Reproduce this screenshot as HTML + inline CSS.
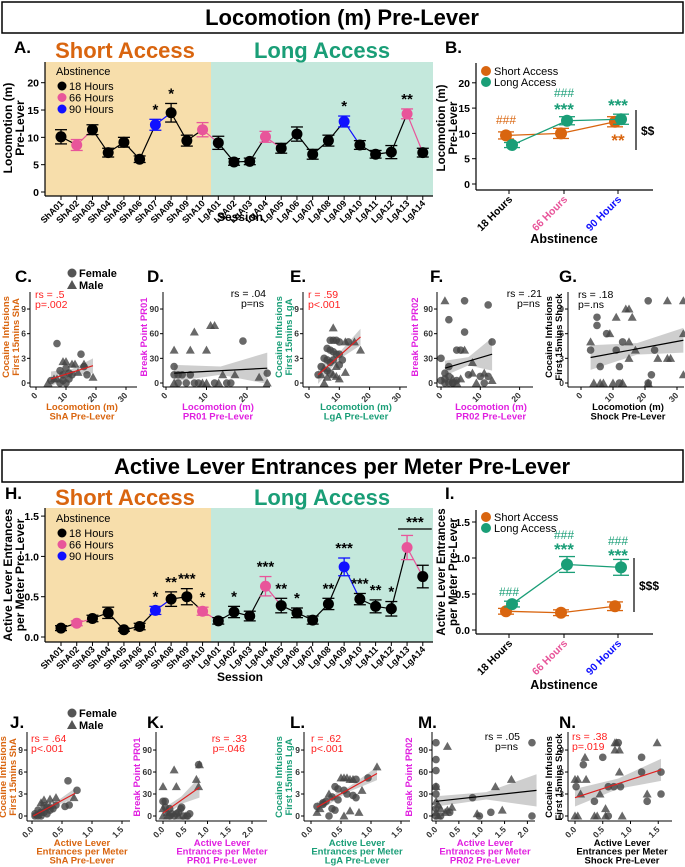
<!DOCTYPE html>
<html><head><meta charset="utf-8">
<style>
body{margin:0;background:#fff;}
svg{display:block;font-family:"Liberation Sans",Arial,sans-serif;}
.b{font-weight:bold;}
</style></head>
<body>
<svg id="fig" width="685" height="867" viewBox="0 0 685 867" xmlns="http://www.w3.org/2000/svg">
<rect x="0" y="0" width="685" height="867" fill="#fff"/>
<g>
<rect x="2" y="2" width="681" height="31" fill="#fff" stroke="#000" stroke-width="1.5"/>
<text x="342" y="25" text-anchor="middle" class="b" font-size="22">Locomotion (m) Pre-Lever</text>
</g>
<g>
<rect x="2" y="450" width="681" height="32" fill="#fff" stroke="#000" stroke-width="1.5"/>
<text x="342" y="474" text-anchor="middle" class="b" font-size="22">Active Lever Entrances per Meter Pre-Lever</text>
</g>
<g id="layer"></g>
</svg>
<script>
// ---------- Panel A data ----------
const sessions=["ShA01","ShA02","ShA03","ShA04","ShA05","ShA06","ShA07","ShA08","ShA09","ShA10","LgA01","LgA02","LgA03","LgA04","LgA05","LgA06","LgA07","LgA08","LgA09","LgA10","LgA11","LgA12","LgA13","LgA14"];
const abstGroup=["18","66","18","18","18","18","90","18","18","66","18","18","18","66","18","18","18","18","90","18","18","18","66","18"];
const locoMean=[10.1,8.6,11.4,7.2,9.1,6.0,12.3,14.5,9.4,11.4,9.0,5.5,5.6,10.1,8.0,10.6,6.9,9.4,12.9,8.6,6.9,7.3,14.3,7.2];
const locoErr=[1.3,1.0,0.9,0.8,0.9,0.6,1.0,1.7,1.0,1.3,1.2,0.6,0.6,1.0,0.9,1.3,0.9,1.0,1.0,0.8,0.7,1.2,0.9,0.8];
const locoStars=["","","","","","","*","*","","","","","","","","","","","*","","","","**",""];
const locoTicks=[0,5,10,15,20];
// ---------- Panel H data ----------
const aleMean=[0.11,0.17,0.23,0.30,0.09,0.13,0.33,0.47,0.50,0.32,0.20,0.31,0.26,0.63,0.39,0.30,0.21,0.41,0.87,0.47,0.38,0.35,1.11,0.75];
const aleErr=[0.03,0.03,0.04,0.07,0.02,0.04,0.05,0.09,0.10,0.05,0.04,0.07,0.06,0.12,0.09,0.06,0.05,0.07,0.11,0.07,0.08,0.09,0.15,0.14];
const aleStars=["","","","","","","*","**","***","*","","*","","***","**","*","","**","***","***","**","*","",""];
const aleTicks=[0,0.5,1.0,1.5];
// ---------- Panel B / I data ----------
const abstLabels=["18 Hours","66 Hours","90 Hours"];
const bShort=[9.6,10.0,12.3];const bShortErr=[0.7,1.0,1.0];
const bLong=[7.7,12.5,12.8];const bLongErr=[0.5,0.8,1.0];
const iShort=[0.26,0.24,0.33];const iShortErr=[0.04,0.04,0.06];
const iLong=[0.36,0.91,0.87];const iLongErr=[0.04,0.11,0.11];
// ---------- Scatter data ----------
const cX=[7,15,10,9,13,16,12,8,10,11,9,12,17,19,5,6,8,9,10,7,14,4,11,16];
const cY=[4.8,3.5,2.6,2.6,2.3,2.3,2.3,1.5,1.8,1.2,1,1,1,0.7,0.3,0.5,0,0.3,0,0.5,1.3,0,0.5,2];
const cS="cctttttcccccctctccctttcc";
const dX=[2,2,6,7,11,12,10,19,25,25,23,2,3,4,5,6,7,8,9,10,12,13,14,15,16,17,2,3];
const dY=[20,40,40,62,70,70,40,51,12,0,7,0,10,10,0,10,0,0,0,0,0,0,10,0,0,10,10,0];
const dS="cttttttcctttccccccttcttcctcc";
const eX=[8,7,8,9,10,12,13,15,17,6,7,8,9,10,5,6,7,8,9,10,11,4,5,6,7,8,3,4,6,5,9,10,12];
const eY=[6.7,5.2,5.2,5.2,5,5,5,5,4,4.2,4,3.8,3.5,3.5,3,2.8,2.5,2.8,2,2.2,2.8,2,1.8,1.5,1.2,1,1,1,0.7,0,0.8,0.5,1.3];
const eS="tcccctcttccccccccctccctcctcttttttt";
const fX=[1,6,12,2,6,13,4,5,6,8,0,2,1,2,3,4,5,1,2,3,4,0,7,8,10,11,12,13,9,11,1,3];
const fY=[100,100,95,77,62,50,40,40,40,25,30,20,12,8,5,3,5,0,0,0,0,3,10,12,8,12,8,3,0,0,5,0];
const fS="tcccccccttcccctctccctcctctcttcccc";
const gX=[3,3,5,5,6,8,9,11,11,12,13,14,15,15,15,16,17,21,21,22,23,24,27,27,28,32,32,32,4,6,7,10,12,13,21];
const gY=[5,4,8,7,2,6,6,8,4,2,5,9,9,5,3,8,4,10,0,1,4,3,10,3,3,10,6,1,0,0,0,0,0,0,0];
const gS="tcccccttcccttttttcccctttttttttttctt";
const jX=[0.6,0.75,0.3,0.2,0.4,0.7,0.15,0.2,0.25,0.3,0.35,0.1,0.15,0.05,0.1,0.2,0.3,0.05,0.1,0.15,0.25,0.62,0.55,0.4];
const jY=[4.8,3.5,2.3,2.2,2.5,2.5,1.8,1.4,1.2,1.4,1,0.8,0.5,0.3,0.2,0.5,0.8,0,0,0,0.3,1.5,1.3,1.5];
const jS="cctttttcctcccctccccccccc";
const kX=[0.8,0.82,0.25,0.75,0.8,0.3,0,0,0.05,0,0.05,0.1,0.15,0.2,0.3,0.35,0.4,0.42,0.25,0.35,0.45,0.55,0.6,0.5,0,0.1,0.15];
const kY=[70,70,63,50,40,40,40,20,20,10,12,5,10,3,3,5,10,12,0,0,0,0,3,0,0,0,0];
const kS="cttttttcctctccccccctccctttcct";
const lX=[1.1,0.95,0.5,0.55,0.6,0.65,0.7,0.75,0.4,0.45,0.55,0.6,0.7,0.75,0.3,0.35,0.45,0.25,0.2,0.1,0.15,0.2,0.35,0.4,0.3,0.55,0.65,0.8,0.85,0.1];
const lY=[6.7,5.2,5.2,5.2,5.2,5,5,5,4,3.7,3.5,3,2.8,2.5,3,2.6,2.2,2,1.6,1.3,1,1.8,1,0.8,0,0,0.7,0.5,3.5,0.5];
const lS="tctttttccccccctccccctcccctttttc";
const mX=[0,0,0,0,0,0,0,0,0,0,0.05,0.25,0.3,0.25,0.35,0.1,0.1,0.8,0.9,0.95,1.2,1.3,1.45,1.65,2.1,2.1,0.05,0.2];
const mY=[100,77,62,40,40,30,20,10,5,0,0,95,5,8,12,10,0,25,3,0,5,40,8,50,100,0,15,5];
const mS="ccctcctctcttctttcctcctttccttttc";
const nX=[0,0.05,0.02,0.1,0.15,0.18,0.2,0.35,0.4,0.45,0.5,0.55,0.6,0.7,0.72,0.72,0.75,0.78,0.8,0.8,0.85,1.2,1.2,1.3,1.3,1.48,1.55,1.55,0,0.05,0.35,0.55,0.6,0.82];
const nY=[5,5,4,3,7,8,5,2,0,3,8,1,4,4,9,10,10,10,9,6,0,8,6,2,3,10,3,6,0,0,0,0,0,4];
const nS="ttctcttcttctcctttctttcccttccttttcctc";
// fits: [xStart,yStart,xEnd,yEnd] and CI half-width [start,mid,end]
const cFit=[5,0.5,19,2.1],cBand=[0.9,0.4,0.9];
const dFit=[2,12,25,18],dBand=[10,5,19];
const eFit=[3,1.0,17,5.6],eBand=[1.1,0.4,1.0];
const fFit=[1,18,13,35],fBand=[9,5,20];
const gFit=[3,3.1,32,5.2],gBand=[1.5,0.7,1.5];
const jFit=[0.02,0,0.72,3.1],jBand=[0.4,0.2,0.7];
const kFit=[0,4,0.82,39],kBand=[6,5,14];
const lFit=[0.1,1.2,1.1,5.8],lBand=[0.7,0.3,0.9];
const mFit=[0,20,2.2,35],mBand=[7,5,22];
const nFit=[0,2.5,1.55,6.3],nBand=[1.2,0.7,1.5];

const NS="http://www.w3.org/2000/svg";
const layer=document.getElementById('layer');
function el(tag,attrs,parent,txt){const e=document.createElementNS(NS,tag);for(const k in attrs)e.setAttribute(k,attrs[k]);if(txt!==undefined)e.textContent=txt;(parent||layer).appendChild(e);return e;}
function grp(name){const g=el('g',{});return g;}
const ORANGE="#d9650f",TEAL="#1a9e77",PINK="#e8559a",BLUE="#1010ff",MAG="#e020e0";
const grpColor={"18":"#000","66":PINK,"90":BLUE};

function txt(g,x,y,s,size,color,anchor,bold,rot){const t=el('text',{x:x,y:y,'font-size':size,fill:color||'#000','text-anchor':anchor||'start','font-weight':bold?'bold':'normal'},g,s);if(rot)t.setAttribute('transform','rotate('+rot+' '+x+' '+y+')');return t;}

// ---------- Session line chart ----------
function sessionChart(name,cfg){
  const g=grp(name);
  const X=i=>61+i*15.73;
  const Y=v=>cfg.y0-v*cfg.k;
  const bgS=el('rect',{x:45,y:cfg.top,width:166,height:cfg.bot-cfg.top,fill:"#f7deab"},g);
  
  const bgL=el('rect',{x:211,y:cfg.top,width:222,height:cfg.bot-cfg.top,fill:"#c4e8dc"},g);
  
  el('line',{x1:45,y1:cfg.top,x2:45,y2:cfg.bot,stroke:'#000','stroke-width':1.2},g);
  el('line',{x1:45,y1:cfg.bot,x2:433,y2:cfg.bot,stroke:'#000','stroke-width':1.2},g);
  cfg.ticks.forEach(t=>{el('line',{x1:41,y1:Y(t),x2:45,y2:Y(t),stroke:'#000'},g);
    const tl=txt(g,39,Y(t)+4,cfg.fmt(t),10.5,'#000','end',true);});
  txt(g,125,cfg.hdrY,"Short Access",22,ORANGE,'middle',true);
  txt(g,322,cfg.hdrY,"Long Access",22,TEAL,'middle',true);
  for(let i=0;i<sessions.length-1;i++){
    el('line',{x1:X(i),y1:Y(cfg.mean[i]),x2:X(i+1),y2:Y(cfg.mean[i+1]),stroke:grpColor[abstGroup[i]],'stroke-width':1.2},g);
  }
  sessions.forEach((s,i)=>{
    const c=grpColor[abstGroup[i]],x=X(i),m=cfg.mean[i],e=cfg.err[i];
    el('line',{x1:x,y1:Y(m-e),x2:x,y2:Y(m+e),stroke:c,'stroke-width':1.3},g);
    el('line',{x1:x-6,y1:Y(m-e),x2:x+6,y2:Y(m-e),stroke:c,'stroke-width':1.3},g);
    el('line',{x1:x-6,y1:Y(m+e),x2:x+6,y2:Y(m+e),stroke:c,'stroke-width':1.3},g);
    const p=el('circle',{cx:x,cy:Y(m),r:5.5,fill:c},g);
    
    
    el('line',{x1:x,y1:cfg.bot,x2:x,y2:cfg.bot+4,stroke:'#000'},g);
    const tl=txt(g,x+3,cfg.bot+8,s,9,'#000','end',true,-45);
    
    if(cfg.stars[i])txt(g,x,Y(m+e)-5,cfg.stars[i],15,'#000','middle',true);
  });
  const sl=txt(g,240,cfg.sessY,"Session",12,'#000','middle',true);
  
  txt(g,12,cfg.ylabY,cfg.yl1,12,'#000','middle',true,-90);
  txt(g,24,cfg.ylabY,cfg.yl2,12,'#000','middle',true,-90);
  const lg=grp(name+'-legend');
  txt(lg,56,cfg.legY,"Abstinence",11,'#000');
  [["#000","18 Hours"],[PINK,"66 Hours"],[BLUE,"90 Hours"]].forEach((d,j)=>{
    el('circle',{cx:62,cy:cfg.legY+11+j*11.5,r:4.5,fill:d[0]},lg);
    txt(lg,69,cfg.legY+15+j*11.5,d[1],11,'#000');
  });
  return g;
}
sessionChart('panel-a-locomotion-chart',{y0:192,k:5.465,top:62,bot:196,ticks:locoTicks,fmt:t=>String(t),mean:locoMean,err:locoErr,stars:locoStars,hdrY:58,sessY:221,ylabY:128,yl1:"Locomotion (m)",yl2:"Pre-Lever",legY:75});
sessionChart('panel-h-active-lever-chart',{y0:637,k:80.6,top:508,bot:642,ticks:aleTicks,fmt:t=>t.toFixed(1),mean:aleMean,err:aleErr,stars:aleStars,hdrY:505,sessY:681,ylabY:575,yl1:"Active Lever Entrances",yl2:"per Meter Pre-Lever",legY:522});
{const g=grp('lga13-14-significance');const X=i=>61+i*15.73;
 el('line',{x1:X(22)-9,y1:529,x2:X(23)+9,y2:529,stroke:'#000','stroke-width':1.2},g);
 txt(g,(X(22)+X(23))/2,527,"***",15,'#000','middle',true);}

// ---------- Abstinence group chart ----------
function groupChart(name,cfg){
  const g=grp(name);
  const xs=[509,564,618];
  const Y=v=>cfg.y0-v*cfg.k;
  el('line',{x1:476,y1:cfg.top,x2:476,y2:cfg.bot,stroke:'#000','stroke-width':1.2},g);
  el('line',{x1:476,y1:cfg.bot,x2:653,y2:cfg.bot,stroke:'#000','stroke-width':1.2},g);
  cfg.ticks.forEach(t=>{el('line',{x1:472,y1:Y(t),x2:476,y2:Y(t),stroke:'#000'},g);
    txt(g,470,Y(t)+4,cfg.fmt(t),10.5,'#000','end',true);});
  const cols=[ORANGE,PINK,BLUE];
  xs.forEach((x,i)=>{el('line',{x1:x,y1:cfg.bot,x2:x,y2:cfg.bot+4,stroke:'#000'},g);
    const tl=txt(g,x+4,cfg.bot+10,abstLabels[i],10.5,i==0?'#000':cols[i],'end',true,-45);
    });
  [[cfg.sh,cfg.shE,ORANGE,-3,'short-access'],[cfg.lg,cfg.lgE,TEAL,3,'long-access']].forEach(s=>{
    const [v,e,c,off,nm]=s;
    for(let i=0;i<2;i++)el('line',{x1:xs[i]+off,y1:Y(v[i]),x2:xs[i+1]+off,y2:Y(v[i+1]),stroke:c,'stroke-width':1.3},g);
    v.forEach((m,i)=>{const x=xs[i]+off;
      el('line',{x1:x,y1:Y(m-e[i]),x2:x,y2:Y(m+e[i]),stroke:c,'stroke-width':1.3},g);
      el('line',{x1:x-8,y1:Y(m-e[i]),x2:x+8,y2:Y(m-e[i]),stroke:c,'stroke-width':1.3},g);
      el('line',{x1:x-8,y1:Y(m+e[i]),x2:x+8,y2:Y(m+e[i]),stroke:c,'stroke-width':1.3},g);
      const p=el('circle',{cx:x,cy:Y(m),r:6,fill:c},g);
      
      
    });
  });
  txt(g,564,cfg.abY,"Abstinence",12.5,'#000','middle',true);
  txt(g,445,cfg.ylabY,cfg.yl1,11.5,'#000','middle',true,-90);
  txt(g,457,cfg.ylabY,cfg.yl2,11.5,'#000','middle',true,-90);
  const lg=grp(name+'-legend');
  el('circle',{cx:486,cy:cfg.legY,r:5,fill:ORANGE},lg);txt(lg,494,cfg.legY+4,"Short Access",11,'#000');
  el('circle',{cx:486,cy:cfg.legY+11,r:5,fill:TEAL},lg);txt(lg,494,cfg.legY+15,"Long Access",11,'#000');
  cfg.ann.forEach(a=>txt(g,a[0],a[1],a[2],a[3],a[4],'middle',a[2][0]=='*'));
  el('line',{x1:cfg.brX,y1:cfg.br[0],x2:cfg.brX,y2:cfg.br[1],stroke:'#000','stroke-width':1.2},g);
  txt(g,cfg.brX+5,(cfg.br[0]+cfg.br[1])/2+5,cfg.dollar,12,'#000','start',true);
}
groupChart('panel-b-abstinence-chart',{y0:184,k:5.06,top:63,bot:190,ticks:[0,5,10,15,20],fmt:t=>String(t),sh:bShort,shE:bShortErr,lg:bLong,lgE:bLongErr,abY:243,ylabY:128,yl1:"Locomotion (m)",yl2:"Pre-Lever",legY:71,
 ann:[[506,124,"###",12,ORANGE],[564,97,"###",12,TEAL],[564,115,"***",17,TEAL],[618,111,"***",17,TEAL],[618,146,"**",17,ORANGE]],brX:636,br:[110,150],dollar:"$$"});
groupChart('panel-i-abstinence-chart',{y0:630,k:72,top:510,bot:634,ticks:[0,0.5,1.0,1.5],fmt:t=>t.toFixed(1),sh:iShort,shE:iShortErr,lg:iLong,lgE:iLongErr,abY:689,ylabY:572,yl1:"Active Lever Entrances",yl2:"per Meter Pre-Lever",legY:517,
 ann:[[509,596,"###",12,TEAL],[564,539,"###",12,TEAL],[564,555,"***",17,TEAL],[618,545,"###",12,TEAL],[618,561,"***",17,TEAL]],brX:634,br:[558,612],dollar:"$$$"});

// ---------- Scatter panels ----------
function scatter(name,c){
  const g=grp(name);
  const X=v=>c.x0+v*c.kx, Y=v=>c.y0-v*c.ky;
  const [a,b,d,e]=c.fit, bw=c.band;
  const xm=(a+d)/2, ym=(b+e)/2;
  const up=[[a,b+bw[0]],[xm,ym+bw[1]],[d,e+bw[2]]], dn=[[d,e-bw[2]],[xm,ym-bw[1]],[a,b-bw[0]]];
  const pts=up.concat(dn).map(p=>X(p[0])+','+Y(Math.max(p[1],c.ymin))).join(' ');
  const band=el('polygon',{points:pts,fill:'#bdbdbd','fill-opacity':0.75},g);
  
  c.xs.forEach((xv,i)=>{
    const x=X(xv),y=Y(c.ys[i]);let m;
    if(c.sh[i]==='t')m=el('polygon',{points:(x)+','+(y-4.5)+' '+(x-4.5)+','+(y+3.5)+' '+(x+4.5)+','+(y+3.5),fill:'#444','fill-opacity':0.8},g);
    else m=el('circle',{cx:x,cy:y,r:3.8,fill:'#444','fill-opacity':0.8},g);
    
    
  });
  const fl=el('line',{x1:X(a),y1:Y(b),x2:X(d),y2:Y(e),stroke:c.fc,'stroke-width':1.2},g);
  
  el('line',{x1:c.ax,y1:c.top,x2:c.ax,y2:c.axY,stroke:'#000','stroke-width':1},g);
  el('line',{x1:c.ax,y1:c.axY,x2:c.right,y2:c.axY,stroke:'#000','stroke-width':1},g);
  c.yt.forEach(t=>{el('line',{x1:c.ax-3,y1:Y(t),x2:c.ax,y2:Y(t),stroke:'#000'},g);txt(g,c.ax-4,Y(t)+3,String(t),8.5,'#333','end',true);});
  c.xt.forEach(t=>{el('line',{x1:X(t),y1:c.axY,x2:X(t),y2:c.axY+3,stroke:'#000'},g);txt(g,X(t)+2,c.axY+9,c.xf(t),8.5,'#333','end',true,-45);});
  c.yl.forEach((s,j)=>txt(g,c.ylx+j*10,c.yly,s,9.5,c.col,'middle',true,-90));
  c.xl.forEach((s,j)=>txt(g,c.xlx,c.xly+j*c.xls,s,9.5,c.col,'middle',true));
  const st=c.stat;
  txt(g,st[0],st[1],st[2],10.5,st[4],st[5],false);txt(g,st[0]+(st[5]=='end'?-2:0),st[1]+10,st[3],10.5,st[4],st[5],false);
  txt(g,c.lx,c.ly,c.letter,17,'#000','start',true);
}
const r1={y0:383,axY:387,top:292,xly:410,xls:9.5,yly:337};
const ky1=8.22,kb1=0.822;
const xl1=i=>["Locomotion (m)",i];
scatter('panel-c-scatter',Object.assign({},r1,{x0:36,kx:3.0,ax:30,right:137,ky:ky1,ymin:-0.5,yt:[0,3,6,9],xt:[0,10,20,30],xf:String,xs:cX,ys:cY,sh:cS,fit:cFit,band:cBand,fc:'#e02020',col:ORANGE,yl:["Cocaine Infusions","First 15mins ShA"],ylx:9,xl:xl1("ShA Pre-Lever"),xlx:82,stat:[35,298,"rs = .5","p=.002",'#ff2020','start'],letter:"C.",lx:15,ly:282}));
scatter('panel-d-scatter',Object.assign({},r1,{x0:166,kx:4.05,ax:163,right:270,ky:kb1,ymin:-5,yt:[0,30,60,90],xt:[0,10,20],xf:String,xs:dX,ys:dY,sh:dS,fit:dFit,band:dBand,fc:'#000',col:MAG,yl:["Break Point PR01"],ylx:147,xl:xl1("PR01 Pre-Lever"),xlx:218,stat:[266,297,"rs = .04","p=ns",'#000','end'],letter:"D.",lx:147,ly:282}));
scatter('panel-e-scatter',Object.assign({},r1,{x0:309,kx:3.03,ax:303,right:407,ky:ky1,ymin:-0.5,yt:[0,3,6,9],xt:[0,10,20,30],xf:String,xs:eX,ys:eY,sh:eS,fit:eFit,band:eBand,fc:'#e02020',col:TEAL,yl:["Cocaine Infusions","First 15mins LgA"],ylx:282,xl:xl1("LgA Pre-Lever"),xlx:356,stat:[308,298,"r = .59","p<.001",'#ff2020','start'],letter:"E.",lx:290,ly:282}));
scatter('panel-f-scatter',Object.assign({},r1,{x0:441,kx:3.93,ax:437,right:533,ky:kb1,ymin:-5,yt:[0,30,60,90],xt:[0,10,20],xf:String,xs:fX,ys:fY,sh:fS,fit:fFit,band:fBand,fc:'#000',col:MAG,yl:["Break Point PR02"],ylx:418,xl:xl1("PR02 Pre-Lever"),xlx:491,stat:[542,297,"rs = .21","p=ns",'#000','end'],letter:"F.",lx:430,ly:282}));
scatter('panel-g-scatter',Object.assign({},r1,{x0:581,kx:3.2,ax:568,right:684,ky:ky1,ymin:-0.5,yt:[0,3,6,9],xt:[0,10,20,30],xf:String,xs:gX,ys:gY,sh:gS,fit:gFit,band:gBand,fc:'#000',col:'#000',yl:["Cocaine Infusions","First 15mins Shock"],ylx:552,xl:xl1("Shock Pre-Lever"),xlx:628,stat:[578,298,"rs = .18","p=.ns",'#000','start'],letter:"G.",lx:559,ly:282}));

const r2={y0:816,axY:821,top:732,xly:846,xls:8.7,yly:777};
const ky2=7.33,kb2=0.733;
const fx=t=>t.toFixed(1);
const xl2=i=>["Active Lever","Entrances per Meter",i];
scatter('panel-j-scatter',Object.assign({},r2,{x0:32,kx:60,ax:27,right:130,ky:ky2,ymin:-0.5,yt:[0,3,6,9],xt:[0,0.5,1,1.5],xf:fx,xs:jX,ys:jY,sh:jS,fit:jFit,band:jBand,fc:'#e02020',col:ORANGE,yl:["Cocaine Infusions","First 15mins ShA"],ylx:6,xl:xl2("ShA Pre-Lever"),xlx:82,stat:[31,742,"rs = .64","p<.001",'#ff2020','start'],letter:"J.",lx:10,ly:728}));
scatter('panel-k-scatter',Object.assign({},r2,{x0:163,kx:44.5,ax:156,right:267,ky:kb2,ymin:-5,yt:[0,30,60,90],xt:[0,0.5,1,1.5,2],xf:fx,xs:kX,ys:kY,sh:kS,fit:kFit,band:kBand,fc:'#e02020',col:MAG,yl:["Break Point PR01"],ylx:140,xl:xl2("PR01 Pre-Lever"),xlx:222,stat:[247,742,"rs = .33","p=.046",'#ff2020','end'],letter:"K.",lx:147,ly:728}));
scatter('panel-l-scatter',Object.assign({},r2,{x0:311,kx:60,ax:304,right:410,ky:ky2,ymin:-0.5,yt:[0,3,6,9],xt:[0,0.5,1,1.5],xf:fx,xs:lX,ys:lY,sh:lS,fit:lFit,band:lBand,fc:'#e02020',col:TEAL,yl:["Cocaine Infusions","First 15mins LgA"],ylx:282,xl:xl2("LgA Pre-Lever"),xlx:357,stat:[311,742,"r = .62","p<.001",'#ff2020','start'],letter:"L.",lx:290,ly:728}));
scatter('panel-m-scatter',Object.assign({},r2,{x0:436,kx:45.7,ax:432,right:535,ky:kb2,ymin:-5,yt:[0,30,60,90],xt:[0,0.5,1,1.5,2],xf:fx,xs:mX,ys:mY,sh:mS,fit:mFit,band:mBand,fc:'#000',col:MAG,yl:["Break Point PR02"],ylx:412,xl:xl2("PR02 Pre-Lever"),xlx:485,stat:[520,740,"rs = .05","p=ns",'#000','end'],letter:"M.",lx:418,ly:728}));
scatter('panel-n-scatter',Object.assign({},r2,{x0:575,kx:55.5,ax:568,right:672,ky:ky2,ymin:-0.5,yt:[0,3,6,9],xt:[0,0.5,1,1.5],xf:fx,xs:nX,ys:nY,sh:nS,fit:nFit,band:nBand,fc:'#e02020',col:'#000',yl:["Cocaine Infusions","First 15mins Shock"],ylx:552,xl:xl2("Shock Pre-Lever"),xlx:622,stat:[572,740,"rs = .38","p=.019",'#ff2020','start'],letter:"N.",lx:559,ly:728}));

// sex legends
[[273,'scatter-sex-legend-top'],[713,'scatter-sex-legend-bottom']].forEach(l=>{
  const g=grp(l[1]);const y=l[0];
  el('circle',{cx:72,cy:y,r:4.5,fill:'#555'},g);txt(g,79,y+4,"Female",11,'#000','start',true);
  el('polygon',{points:'72,'+(y+7)+' 67,'+(y+16)+' 77,'+(y+16),fill:'#555'},g);txt(g,79,y+16,"Male",11,'#000','start',true);
});
const pl=grp('panel-letters');
txt(pl,14,53,"A.",17,'#000','start',true);
txt(pl,445,53,"B.",17,'#000','start',true);
txt(pl,5,499,"H.",17,'#000','start',true);
txt(pl,445,499,"I.",17,'#000','start',true);
</script>
</body></html>
